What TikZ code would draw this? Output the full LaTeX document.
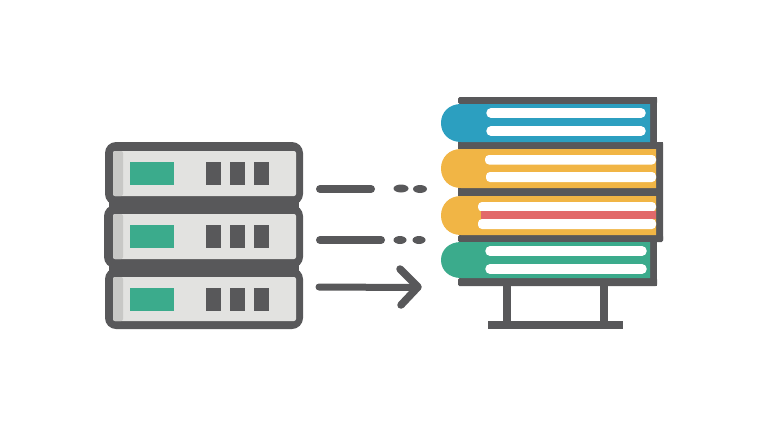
\documentclass[tikz,border=0pt]{standalone}
\definecolor{ink}{HTML}{58585A}
\definecolor{panel}{HTML}{E2E2E0}
\definecolor{panelshade}{HTML}{C8C8C6}
\definecolor{tealbox}{HTML}{3BAB8C}
\definecolor{bluebook}{HTML}{2C9FC0}
\definecolor{yellowbook}{HTML}{F1B545}
\definecolor{redstripe}{HTML}{E2696A}
\tikzset{
  dash stroke/.style={draw=ink,line width=8pt,line cap=round},
  page line/.style={draw=white,line width=9.5pt,line cap=round},
  dotmark/.style={fill=ink,draw=none}
}
\newcommand{\serverunit}[2]{%
  \fill[panel,rounded corners=2pt] (113,#1) rectangle (296,#2);
  \fill[panelshade,rounded corners=2pt] (113,#1) rectangle (123,#2);
}
\newcommand{\serverleds}[1]{%
  \fill[tealbox] (130,#1) rectangle (174,#1+23);
  \fill[ink] (206,#1) rectangle (221,#1+23);
  \fill[ink] (230,#1) rectangle (245,#1+23);
  \fill[ink] (254,#1) rectangle (269,#1+23);
}
\newcommand{\book}[4]{% top, bottom, right, colour
  \fill[#4] (#3,#1) -- (461,#1)
    .. controls (449,#1) and (441,{#1+0.22*(#2-#1)}) .. (441,{(#1+#2)/2})
    .. controls (441,{#1+0.78*(#2-#1)}) and (449,#2) .. (461,#2)
    -- (#3,#2) -- cycle;
}
\begin{document}
\begin{tikzpicture}[x=1pt,y=-1pt]
\useasboundingbox (0,0) rectangle (768,432);
\fill[white] (0,0) rectangle (768,432);
% server rack
\fill[ink,rounded corners=11pt] (105,142) rectangle (303,205);
\fill[ink,rounded corners=11pt] (104,205) rectangle (303,268);
\fill[ink,rounded corners=11pt] (105,268) rectangle (303,329);
\fill[ink] (109,190) rectangle (299,280);
\serverunit{151}{196}
\serverunit{214}{259}
\serverunit{277}{321}
\serverleds{162}
\serverleds{225}
\serverleds{288}
% connectors
\draw[dash stroke] (320,189) -- (371,189);
\fill[dotmark] (401,188.5) ellipse[x radius=7.5,y radius=4];
\fill[dotmark] (420,189) ellipse[x radius=7,y radius=4];
\draw[dash stroke] (320,240) -- (381,240);
\fill[dotmark] (400,240) ellipse[x radius=6.5,y radius=4];
\fill[dotmark] (419,240) ellipse[x radius=6.5,y radius=4];
\draw[draw=ink,line width=7pt,line cap=round] (319,287) -- (416,287.5);
\draw[draw=ink,line width=7.5pt,line cap=round,line join=round] (400,269) -- (418,287) -- (401,305);
% book stack: covers
\fill[ink,rounded corners=1.5pt] (458,97) rectangle (657,104);
\fill[ink] (650,97) rectangle (657,145);
\fill[ink] (458,142) rectangle (663,149);
\fill[ink,rounded corners=1.5pt] (656,142) rectangle (663,241);
\fill[ink] (458,188) rectangle (663,196);
\fill[ink,rounded corners=1.5pt] (458,235) rectangle (663,242);
\fill[ink] (650,240) rectangle (657,286);
\fill[ink,rounded corners=1.5pt] (458,278) rectangle (657,286);
% stand
\fill[ink] (503,286) rectangle (511,323);
\fill[ink] (600,286) rectangle (608,323);
\fill[ink] (488,321) rectangle (623,329);
% books
\book{104}{142}{650}{bluebook}
\draw[page line] (491,113) -- (641,113);
\draw[page line] (491,131) -- (641,131);
\book{149}{188}{656}{yellowbook}
\fill[white,rounded corners=4pt] (485,155) rectangle (656,164.5);
\fill[white,rounded corners=4pt] (486,172) rectangle (656,182);
\book{196}{235}{656}{yellowbook}
\fill[white,rounded corners=4pt] (478,202) rectangle (656,211.5);
\fill[white,rounded corners=4pt] (478,219) rectangle (656,229);
\fill[redstripe] (481,211) rectangle (656,219);
\book{242}{278}{650}{tealbox}
\draw[page line] (490,251) -- (642,251);
\draw[page line] (490,269) -- (642,269);
\end{tikzpicture}
\end{document}
